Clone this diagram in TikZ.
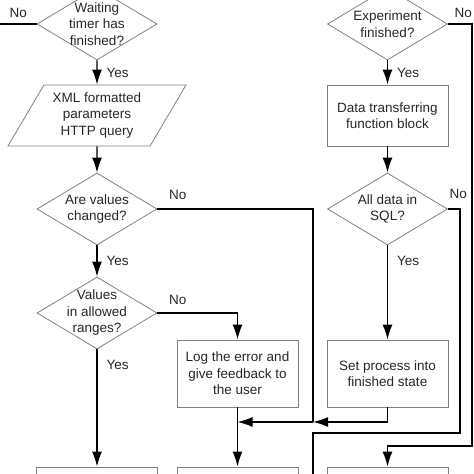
\documentclass[tikz,border=0pt]{standalone}
\usepackage{fontspec}
\setmainfont{Liberation Sans}
\usepackage{tikz}
\usetikzlibrary{shapes.geometric, arrows.meta, positioning}

\begin{document}
\begin{tikzpicture}[x=1pt, y=1pt, >={Latex[length=15pt, width=10pt]},
    body/.style={font=\fontsize{13.5}{16.5}\selectfont, align=center, text=black!85},
    decision/.style={draw=gray, line width=0.8pt, diamond, minimum width=120pt, minimum height=72pt, inner sep=0pt},
    dtext/.style={body, inner sep=0pt},
    block/.style={body, draw=gray, line width=0.8pt, rectangle, minimum width=121pt, minimum height=67pt},
    iobox/.style={body, draw=gray, line width=0.8pt, trapezium, trapezium left angle=55.5, trapezium right angle=124.5,
        trapezium stretches body, minimum width=178pt, minimum height=61pt},
    flow/.style={->, line width=1.4pt},
    conn/.style={line width=1.4pt},
    lbl/.style={body, inner sep=0pt},
    nolbl/.style={lbl, anchor=south west}]

    \clip (0,0) rectangle (474,474);

    % Cột trái
    \node[decision] (wait) at (97,450) {};
    \node[dtext] (wait-t) at (wait) {Waiting\\timer has\\finished?};
    \node[iobox] (xml) at (97,358.5) {XML formatted\\parameters\\HTTP query};
    \node[decision] (chg) at (97,265) {};
    \node[dtext] (chg-t) at (chg) {Are values\\changed?};
    \node[decision] (rng) at (97,161) {};
    \node[dtext] (rng-t) at (rng) {Values\\in allowed\\ranges?};
    \node[block] (log) at (237.5,100.5) {Log the error and\\give feedback to\\the user};

    % Cột phải
    \node[decision] (exp) at (387.5,450) {};
    \node[dtext] (exp-t) at (exp) {Experiment\\finished?};
    \node[block, minimum height=61pt] (dtf) at (387.5,358.5) {Data transferring\\function block};
    \node[decision] (sql) at (387.5,265) {};
    \node[dtext] (sql-t) at (sql) {All data in\\SQL?};
    \node[block] (set) at (387.5,100.5) {Set process into\\finished state};

    % Các khối cuối (bị cắt)
    \node[block] (outL) at (97,-26.5) {};
    \node[block] (outM) at (237.5,-26.5) {};
    \node[block] (outR) at (387.5,-26.5) {};

    % Các điểm nối
    \coordinate (lout) at (0,450);
    \coordinate (j1) at (313,52);
    \coordinate (j2) at (237.5,52);
    \coordinate (k1) at (460,41);
    \coordinate (k2) at (313,-10);
    \coordinate (m1) at (472,28);

    % Mũi tên cột trái
    \draw[conn] (wait.west) -- node[lbl, above=6pt] {No} (lout);
    \draw[flow] (wait) -- node[lbl, right=9pt] {Yes} (xml);
    \draw[flow] (xml) -- (chg);
    \draw[flow] (chg) -- node[lbl, right=9pt] {Yes} (rng);
    \draw[conn] (chg.east) node[nolbl, xshift=11pt, yshift=9pt] {No} -| (j1);
    \draw[flow] (rng.east) node[nolbl, xshift=11pt, yshift=8pt] {No} -| (log.north);
    \draw[flow] (rng) -- node[lbl, right=9pt, pos=0.13] {Yes} (outL);
    \draw[flow] (log) -- (outM);
    \draw[flow] (set.south) |- (j1);
    \draw[flow] (j1) -- (j2);

    % Mũi tên cột phải
    \draw[flow] (exp.east) node[nolbl, xshift=6pt, yshift=6pt] {No} -| (m1) -| (outR.north);
    \draw[flow] (exp) -- node[lbl, right=9pt] {Yes} (dtf);
    \draw[flow] (dtf) -- (sql);
    \draw[flow] (sql) -- node[lbl, right=9pt, pos=0.16] {Yes} (set);
    \draw[conn] (sql.east) node[nolbl, xshift=1pt, yshift=10pt] {No} -| (k1) -| (k2);

\end{tikzpicture}
\end{document}
